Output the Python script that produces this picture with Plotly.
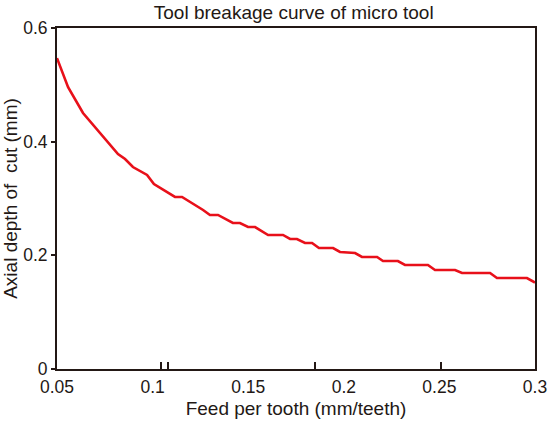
import plotly.graph_objects as go

feed = [0.05, 0.0558, 0.0636, 0.0725, 0.0819, 0.0856, 0.0897, 0.0971, 0.1007,
        0.1117, 0.1154, 0.1264, 0.13, 0.1342, 0.142, 0.1457, 0.1499, 0.1536,
        0.1604, 0.1682, 0.1719, 0.1755, 0.1797, 0.1834, 0.187, 0.1944, 0.198,
        0.2059, 0.2095, 0.2174, 0.2205, 0.2283, 0.232, 0.244, 0.2477, 0.2582,
        0.2618, 0.2765, 0.2801, 0.2958, 0.2990, 0.3]
depth = [0.547, 0.496, 0.4505, 0.4153, 0.3783, 0.3695, 0.3554, 0.3414, 0.3255,
         0.3027, 0.3027, 0.2798, 0.271, 0.271, 0.2569, 0.2569, 0.2498, 0.2498,
         0.2358, 0.2358, 0.2288, 0.2288, 0.2217, 0.2217, 0.2129, 0.2129, 0.2059,
         0.2041, 0.1971, 0.1971, 0.19, 0.19, 0.183, 0.183, 0.1742, 0.1742,
         0.1689, 0.1689, 0.1601, 0.1601, 0.1531, 0.152]

x_ticks = [0.05, 0.1, 0.15, 0.2, 0.25, 0.3]
x_tick_labels = ["0.05", "0.1", "0.15", "0.2", "0.25", "0.3"]
x_minor_marks = [0.1045, 0.108, 0.185, 0.251]
y_ticks = [0, 0.2, 0.4, 0.6]
y_tick_labels = ["0", "0.2", "0.4", "0.6"]

FONT = "Liberation Sans, Arial, Helvetica, sans-serif"
AXIS_COLOR = "#231815"
TEXT_COLOR = "#231815"

fig = go.Figure()
fig.add_trace(go.Scatter(x=feed, y=depth, mode="lines",
                         line=dict(color="#e8101a", width=2.6),
                         showlegend=False, hoverinfo="skip"))
# invisible trace to activate the tick-mark axis
fig.add_trace(go.Scatter(x=[feed[0]], y=[depth[0]], xaxis="x2", mode="markers",
                         marker=dict(opacity=0), showlegend=False, hoverinfo="skip"))

fig.update_layout(
    width=550, height=421,
    margin=dict(l=57, r=15, t=28, b=52, autoexpand=False),
    paper_bgcolor="white", plot_bgcolor="white",
    font=dict(family=FONT, color=TEXT_COLOR),
    title=dict(text="Tool breakage curve of micro tool", x=0.534, xanchor="center",
               y=0.971, yanchor="middle", font=dict(size=19, family=FONT, color=TEXT_COLOR)),
    xaxis=dict(range=[0.05, 0.3], tickvals=x_ticks, ticktext=x_tick_labels,
               ticks="", showgrid=False, zeroline=False, automargin=False,
               showline=True, linecolor=AXIS_COLOR, linewidth=2, mirror=True,
               ticklabelstandoff=1,
               tickfont=dict(size=17.5, family=FONT, color=TEXT_COLOR),
               title=dict(text="Feed per tooth (mm/teeth)", standoff=6,
                          font=dict(size=19, family=FONT, color=TEXT_COLOR))),
    xaxis2=dict(range=[0.05, 0.3], overlaying="x", anchor="y", side="bottom",
                tickvals=x_minor_marks, ticks="inside", ticklen=7, tickwidth=2,
                tickcolor=AXIS_COLOR, showticklabels=False, showgrid=False,
                zeroline=False, showline=False, automargin=False),
    yaxis=dict(range=[0, 0.6], tickvals=y_ticks, ticktext=y_tick_labels,
               ticks="outside", ticklen=4, tickwidth=2, tickcolor=AXIS_COLOR,
               showgrid=False, zeroline=False, automargin=False,
               showline=True, linecolor=AXIS_COLOR, linewidth=2, mirror=True,
               tickfont=dict(size=17.5, family=FONT, color=TEXT_COLOR),
               title=dict(text="Axial depth of  cut (mm)", standoff=3,
                          font=dict(size=19, family=FONT, color=TEXT_COLOR))),
)

fig.write_html("out.html", config={"displayModeBar": False},
               post_script="document.body.style.margin='0';")
